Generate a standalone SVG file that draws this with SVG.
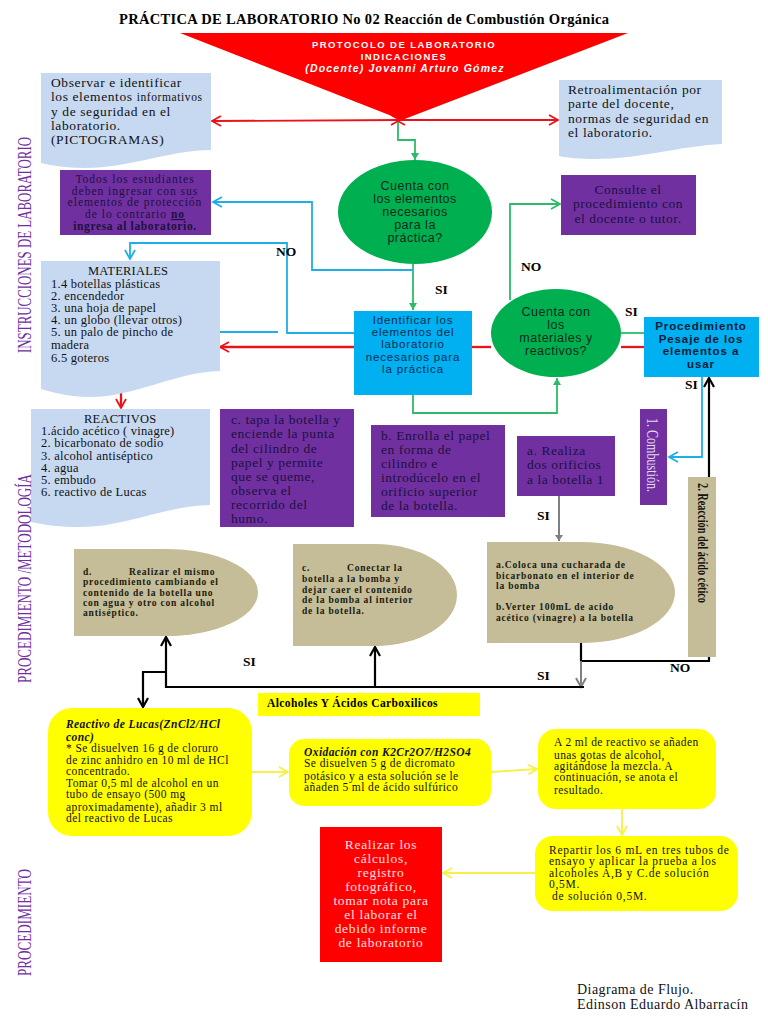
<svg xmlns="http://www.w3.org/2000/svg" width="768" height="1024" viewBox="0 0 768 1024">
<style>
text{font-family:"Liberation Serif","Times New Roman",serif;fill:#111}
.sans{font-family:"Liberation Sans",Arial,sans-serif}
.lbl{font-size:13.5px;font-weight:bold;fill:#000}
.side{font-size:18px;fill:#7030a0}
.doc{fill:#c6d9f1}.pur{fill:#7030a0}.tan{fill:#c4bd97}.yel{fill:#ff0}.grn{fill:#00b050}.cy{fill:#00b0f0}
.purt{fill:#1c1040;font-size:13.5px;letter-spacing:.55px}
.tant{font-size:9.5px;font-weight:bold;fill:#1a1a10;letter-spacing:.8px}
.yt{font-size:11.5px;letter-spacing:.42px}
.c{text-anchor:middle}
#connectors path,#connectors line{fill:none}
.r{stroke:#e8141c;stroke-width:1.8}.r2{stroke:#e8141c;stroke-width:2.3}.g{stroke:#2dbb6a;stroke-width:1.8}.b{stroke:#1eaee8;stroke-width:1.8}
.k{stroke:#000;stroke-width:2.2}.gy{stroke:#808080;stroke-width:2}.y{stroke:#f6f04a;stroke-width:1.8}
</style>
<defs>
<marker id="mr" markerUnits="userSpaceOnUse" markerWidth="14" markerHeight="14" refX="11" refY="6" orient="auto-start-reverse"><path d="M2 1L11 6L2 11" fill="none" stroke="#e8141c" stroke-width="1.8"/></marker>
<marker id="mb" markerUnits="userSpaceOnUse" markerWidth="14" markerHeight="14" refX="11" refY="6" orient="auto"><path d="M2 1L11 6L2 11" fill="none" stroke="#1eaee8" stroke-width="1.8"/></marker>
<marker id="mg" markerUnits="userSpaceOnUse" markerWidth="14" markerHeight="14" refX="11" refY="6" orient="auto"><path d="M2 1L11 6L2 11" fill="none" stroke="#2dbb6a" stroke-width="1.8"/></marker>
<marker id="mgf" markerUnits="userSpaceOnUse" markerWidth="12" markerHeight="12" refX="7" refY="4" orient="auto"><path d="M0 0L7 4L0 8Z" fill="#2dbb6a"/></marker>
<marker id="mk" markerUnits="userSpaceOnUse" markerWidth="14" markerHeight="14" refX="11" refY="6" orient="auto"><path d="M2 1L11 6L2 11" fill="none" stroke="#000" stroke-width="2.2"/></marker>
<marker id="my" markerUnits="userSpaceOnUse" markerWidth="14" markerHeight="14" refX="11" refY="6" orient="auto"><path d="M2 1L11 6L2 11" fill="none" stroke="#f6f04a" stroke-width="1.8"/></marker>
<marker id="mgy" markerUnits="userSpaceOnUse" markerWidth="14" markerHeight="14" refX="11" refY="6" orient="auto"><path d="M2 1L11 6L2 11" fill="none" stroke="#808080" stroke-width="2"/></marker>
<marker id="mgyf" markerUnits="userSpaceOnUse" markerWidth="12" markerHeight="12" refX="6" refY="4" orient="auto"><path d="M0 0L6 4L0 8Z" fill="#808080"/></marker>
</defs>
<rect width="768" height="1024" fill="#fff"/>
<g id="connectors">
<line class="r" x1="212" y1="121" x2="400" y2="120" marker-start="url(#mr)" marker-end="url(#mr)"/>
<line class="r" x1="396" y1="120" x2="558" y2="120" marker-start="url(#mr)" marker-end="url(#mr)"/>
<path class="g" d="M398 122V140H415V160" marker-end="url(#mgf)"/>
<path class="g" d="M413 264V310" marker-end="url(#mgf)"/>
<path class="g" d="M413 395V413H557V378" marker-end="url(#mgf)"/>
<path class="g" d="M510 300V204H560" marker-end="url(#mg)"/>
<line class="g" x1="621" y1="333" x2="644" y2="333"/>
<line class="r2" x1="472" y1="347" x2="491" y2="347"/>
<line class="r2" x1="621" y1="347" x2="644" y2="347"/>
<line class="r2" x1="354" y1="347" x2="220" y2="347" marker-end="url(#mr)"/>
<line class="b" x1="220" y1="332" x2="278" y2="332"/>
<path class="b" d="M354 333H287V243H130V259" marker-end="url(#mb)"/>
<path class="b" d="M413 270H312V202H213" marker-end="url(#mb)"/>
<path class="b" d="M702 377V457H669" marker-end="url(#mb)"/>
<path class="k" d="M709 477V378" marker-end="url(#mk)"/>
<line class="r2" x1="121" y1="392" x2="121" y2="408" marker-end="url(#mr)"/>
<path class="gy" d="M559 496V541" marker-end="url(#mgyf)"/>
<path class="k" d="M581 643V661H709V657"/>
<path class="gy" d="M581 661V687" marker-end="url(#mgy)"/>
<path class="k" d="M584 687H166V637" marker-end="url(#mk)"/>
<path class="k" d="M375 687V647" marker-end="url(#mk)"/>
<path class="k" d="M166 672H143V707" marker-end="url(#mk)"/>
<line class="y" x1="252" y1="772" x2="288" y2="772" marker-end="url(#my)"/>
<line class="y" x1="491" y1="772" x2="537" y2="769" marker-end="url(#my)"/>
<line class="y" x1="622" y1="809" x2="622" y2="835" marker-end="url(#my)"/>
<line class="y" x1="535" y1="873" x2="443" y2="873" marker-end="url(#my)"/>
</g>
<g id="title"><text x="119" y="24" font-size="14.5" font-weight="bold" style="fill:#000" textLength="490">PRÁCTICA DE LABORATORIO No 02 Reacción de Combustión Orgánica</text></g>
<g id="n-protocolo">
<polygon points="180,33 628,33 402,120" fill="#f00"/>
<text class="sans c" x="404" y="48" style="fill:#fff" font-size="9.5" font-weight="bold" letter-spacing="1.45">PROTOCOLO DE LABORATORIO</text>
<text class="sans c" x="404" y="60" style="fill:#fff" font-size="9.5" font-weight="bold" letter-spacing="1.45">INDICACIONES</text>
<text class="sans c" x="405" y="72" style="fill:#fff" font-size="10.5" font-weight="bold" font-style="italic" letter-spacing="1.2">(Docente) Jovanni Arturo Gómez</text>
</g>
<g id="n-observar"><path class="doc" d="M41 73H211V150C170 150 130 168 85 168C65 168 50 165 41 163Z"/>
<text font-size="13.5" letter-spacing=".6"><tspan x="51" y="87">Observar e identificar</tspan><tspan x="51" y="101">los elementos <tspan font-size="11.5">informativos</tspan></tspan><tspan x="51" y="116">y de seguridad en el</tspan><tspan x="51" y="130">laboratorio.</tspan><tspan x="51" y="144">(PICTOGRAMAS)</tspan></text></g>
<g id="n-retro"><path class="doc" d="M559 80H722V144C680 146 640 159 595 159C580 159 568 158 559 156Z"/>
<text font-size="13.5" letter-spacing=".6"><tspan x="568" y="94">Retroalimentación por</tspan><tspan x="568" y="108">parte del docente,</tspan><tspan x="568" y="123">normas de seguridad en</tspan><tspan x="568" y="137">el laboratorio.</tspan></text></g>
<g id="n-todos"><rect class="pur" x="60" y="170" width="151" height="65"/>
<text class="c" font-size="11.5" letter-spacing="1" style="fill:#1c1040"><tspan x="135" y="183">Todos los estudiantes</tspan><tspan x="135" y="195">deben ingresar con sus</tspan><tspan x="135" y="206">elementos de protección</tspan><tspan x="135" y="218">de lo contrario <tspan font-weight="bold" text-decoration="underline">no</tspan></tspan><tspan x="135" y="230" font-weight="bold" letter-spacing=".65">ingresa al laboratorio.</tspan></text></g>
<g id="n-consulte"><rect class="pur" x="561" y="175" width="135" height="60"/>
<text class="c" font-size="13.5" letter-spacing=".55" style="fill:#1c1040"><tspan x="628" y="194">Consulte el</tspan><tspan x="628" y="208">procedimiento con</tspan><tspan x="628" y="223">el docente o tutor.</tspan></text></g>
<g id="n-cuenta1"><ellipse class="grn" cx="415" cy="212" rx="77" ry="52"/>
<text class="sans c" font-size="12.5" letter-spacing=".5" style="fill:#0a2a1a"><tspan x="415" y="190">Cuenta con</tspan><tspan x="415" y="203">los elementos</tspan><tspan x="415" y="216">necesarios</tspan><tspan x="415" y="229">para la</tspan><tspan x="415" y="242">práctica?</tspan></text></g>
<g id="n-materiales"><path class="doc" d="M41 261H220V371C175 372 135 397 90 397C70 397 55 393 41 389Z"/>
<text font-size="12.5" letter-spacing=".25"><tspan x="88" y="275">MATERIALES</tspan><tspan x="51" y="288">1.4 botellas plásticas</tspan><tspan x="51" y="300">2. encendedor</tspan><tspan x="51" y="312">3. una hoja de papel</tspan><tspan x="51" y="324">4. un globo (llevar otros)</tspan><tspan x="51" y="336">5. un palo de pincho de</tspan><tspan x="51" y="349">madera</tspan><tspan x="51" y="362">6.5 goteros</tspan></text></g>
<g id="n-identificar"><rect class="cy" x="354" y="311" width="118" height="84"/>
<text class="sans c" font-size="11.5" letter-spacing=".85" style="fill:#0a2a50"><tspan x="413" y="324">Identificar los</tspan><tspan x="413" y="336">elementos del</tspan><tspan x="413" y="348">laboratorio</tspan><tspan x="413" y="361">necesarios para</tspan><tspan x="413" y="373">la práctica</tspan></text></g>
<g id="n-cuenta2"><ellipse class="grn" cx="556" cy="333" rx="65" ry="44"/>
<text class="sans c" font-size="12.5" letter-spacing=".5" style="fill:#0a2a1a"><tspan x="556" y="316">Cuenta con</tspan><tspan x="556" y="329">los</tspan><tspan x="556" y="342">materiales y</tspan><tspan x="556" y="355">reactivos?</tspan></text></g>
<g id="n-procedimiento"><rect class="cy" x="644" y="317" width="115" height="60"/>
<text class="sans c" font-size="11.5" letter-spacing=".9" font-weight="bold" style="fill:#0a1a3a"><tspan x="701" y="330">Procedimiento</tspan><tspan x="701" y="343">Pesaje de los</tspan><tspan x="701" y="355">elementos a</tspan><tspan x="701" y="368">usar</tspan></text></g>
<g id="n-reactivos"><path class="doc" d="M31 409H210V505C165 506 125 527 80 527C60 527 45 525 31 522Z"/>
<text font-size="12.5" letter-spacing=".25"><tspan x="84" y="423">REACTIVOS</tspan><tspan x="41" y="435">1.ácido acético ( vinagre)</tspan><tspan x="41" y="447">2. bicarbonato de sodio</tspan><tspan x="41" y="460">3. alcohol antiséptico</tspan><tspan x="41" y="472">4. agua</tspan><tspan x="41" y="484">5. embudo</tspan><tspan x="41" y="496">6. reactivo de Lucas</tspan></text></g>
<g id="n-c-purple"><rect class="pur" x="220" y="409" width="134" height="118"/>
<text class="purt"><tspan x="231" y="424">c. tapa la botella y</tspan><tspan x="231" y="438">enciende la punta</tspan><tspan x="231" y="453">del cilindro de</tspan><tspan x="231" y="467">papel y permite</tspan><tspan x="231" y="481">que se queme,</tspan><tspan x="231" y="495">observa el</tspan><tspan x="231" y="509">recorrido del</tspan><tspan x="231" y="523">humo.</tspan></text></g>
<g id="n-b-purple"><rect class="pur" x="371" y="425" width="134" height="92"/>
<text class="purt"><tspan x="381" y="440">b. Enrolla el papel</tspan><tspan x="381" y="454">en forma de</tspan><tspan x="381" y="468">cilindro e</tspan><tspan x="381" y="482">introdúcelo en el</tspan><tspan x="381" y="496">orificio superior</tspan><tspan x="381" y="510">de la botella.</tspan></text></g>
<g id="n-a-purple"><rect class="pur" x="517" y="436" width="98" height="60"/>
<text class="purt"><tspan x="527" y="455">a. Realiza</tspan><tspan x="527" y="469">dos orificios</tspan><tspan x="527" y="484">a la botella 1</tspan></text></g>
<g id="n-combustion"><rect class="pur" x="640" y="409" width="27" height="96"/>
<text transform="translate(647 418) rotate(90)" font-size="16" style="fill:#e6d8f2" textLength="74" lengthAdjust="spacingAndGlyphs">1. Combustión.</text></g>
<g id="n-reaccion"><rect class="tan" x="688" y="477" width="28" height="180"/>
<text transform="translate(698 483) rotate(90)" font-size="14" font-weight="bold" textLength="120" lengthAdjust="spacingAndGlyphs">2. Reacción del ácido cético</text></g>
<g id="n-d-tan"><path class="tan" d="M74 549H166A92 43.5 0 0 1 166 636H74Z"/>
<text class="tant"><tspan x="83" y="575">d.</tspan><tspan x="129" y="575">Realizar el mismo</tspan><tspan x="83" y="585">procedimiento cambiando el</tspan><tspan x="83" y="596">contenido de la botella uno</tspan><tspan x="83" y="606">con agua y otro con alcohol</tspan><tspan x="83" y="616">antiséptico.</tspan></text></g>
<g id="n-c-tan"><path class="tan" d="M293 544H375A82 51 0 0 1 375 646H293Z"/>
<text class="tant"><tspan x="302" y="571">c.</tspan><tspan x="347" y="571">Conectar la</tspan><tspan x="302" y="582">botella a la bomba y</tspan><tspan x="302" y="593">dejar caer el contenido</tspan><tspan x="302" y="603">de la bomba al interior</tspan><tspan x="302" y="614">de la botella.</tspan></text></g>
<g id="n-a-tan"><path class="tan" d="M487 542H581A94 50.5 0 0 1 581 643H487Z"/>
<text class="tant"><tspan x="496" y="568">a.Coloca una cucharada de</tspan><tspan x="496" y="579">bicarbonato en el interior de</tspan><tspan x="496" y="589">la bomba</tspan><tspan x="496" y="610">b.Verter 100mL de acido</tspan><tspan x="496" y="621">acético (vinagre) a la botella</tspan></text></g>
<g id="n-alcoholes"><rect class="yel" x="258" y="693" width="222" height="23"/>
<text x="267" y="707" font-size="11.5" font-weight="bold" letter-spacing=".4" style="fill:#000">Alcoholes Y Ácidos Carboxilicos</text></g>
<g id="n-lucas"><rect class="yel" x="48" y="708" width="204" height="128" rx="24"/>
<text class="yt"><tspan x="66" y="728" font-weight="bold" font-style="italic">Reactivo de Lucas(ZnCl2/HCl</tspan><tspan x="66" y="741" font-weight="bold" font-style="italic">conc)</tspan><tspan x="66" y="752">* Se disuelven 16 g de cloruro</tspan><tspan x="66" y="764">de zinc anhidro en 10 ml de HCl</tspan><tspan x="66" y="775">concentrado.</tspan><tspan x="66" y="787">Tomar 0,5 ml de alcohol en un</tspan><tspan x="66" y="798">tubo de ensayo (500 mg</tspan><tspan x="66" y="811">aproximadamente), añadir 3 ml</tspan><tspan x="66" y="822">del reactivo de Lucas</tspan></text></g>
<g id="n-oxidacion"><rect class="yel" x="289" y="739" width="202" height="67" rx="15"/>
<text class="yt"><tspan x="304" y="756" font-weight="bold" font-style="italic">Oxidación con K2Cr2O7/H2SO4</tspan><tspan x="304" y="767">Se disuelven 5 g de dicromato</tspan><tspan x="304" y="780">potásico y a esta solución se le</tspan><tspan x="304" y="791">añaden 5 ml de ácido sulfúrico</tspan></text></g>
<g id="n-a2"><rect class="yel" x="538" y="729" width="178" height="80" rx="18"/>
<text class="yt"><tspan x="554" y="746">A 2 ml de reactivo se añaden</tspan><tspan x="554" y="759">unas gotas de alcohol,</tspan><tspan x="554" y="770">agitándose la mezcla. A</tspan><tspan x="554" y="781">continuación, se anota el</tspan><tspan x="554" y="794">resultado.</tspan></text></g>
<g id="n-repartir"><rect class="yel" x="535" y="836" width="203" height="75" rx="18"/>
<text font-size="11.5" letter-spacing=".73"><tspan x="549" y="854">Repartir los 6 mL en tres tubos de</tspan><tspan x="549" y="865">ensayo y aplicar la prueba a los</tspan><tspan x="549" y="877">alcoholes A,B y C.de solución</tspan><tspan x="549" y="888">0,5M.</tspan><tspan x="552" y="900">de solución 0,5M.</tspan></text></g>
<g id="n-realizar"><rect x="320" y="827" width="122" height="135" fill="#f00"/>
<text class="c" font-size="13.5" letter-spacing=".7" style="fill:#ffe0e0"><tspan x="381" y="849">Realizar los</tspan><tspan x="381" y="863">cálculos,</tspan><tspan x="381" y="877">registro</tspan><tspan x="381" y="891">fotográfico,</tspan><tspan x="381" y="905">tomar nota para</tspan><tspan x="381" y="919">el laborar el</tspan><tspan x="381" y="933">debido informe</tspan><tspan x="381" y="947">de laboratorio</tspan></text></g>
<g id="side-labels">
<text class="side" transform="translate(31 353) rotate(-90)" textLength="216" lengthAdjust="spacingAndGlyphs">INSTRUCCIONES DE LABORATORIO</text>
<text class="side" transform="translate(31 683) rotate(-90)" textLength="209" lengthAdjust="spacingAndGlyphs">PROCEDIMIENTO /METODOLOGÍA</text>
<text class="side" transform="translate(31 976) rotate(-90)" textLength="107" lengthAdjust="spacingAndGlyphs">PROCEDIMIENTO</text>
</g>
<g id="edge-labels">
<text class="lbl" x="276" y="256">NO</text><text class="lbl" x="435" y="294">SI</text><text class="lbl" x="521" y="271">NO</text>
<text class="lbl" x="625" y="316">SI</text><text class="lbl" x="685" y="389">SI</text><text class="lbl" x="537" y="520">SI</text>
<text class="lbl" x="243" y="666">SI</text><text class="lbl" x="537" y="680">SI</text><text class="lbl" x="670" y="672">NO</text>
</g>
<g id="footer"><text font-size="14" letter-spacing=".46"><tspan x="577" y="994">Diagrama de Flujo.</tspan><tspan x="577" y="1009">Edinson Eduardo Albarracín</tspan></text></g>
</svg>
